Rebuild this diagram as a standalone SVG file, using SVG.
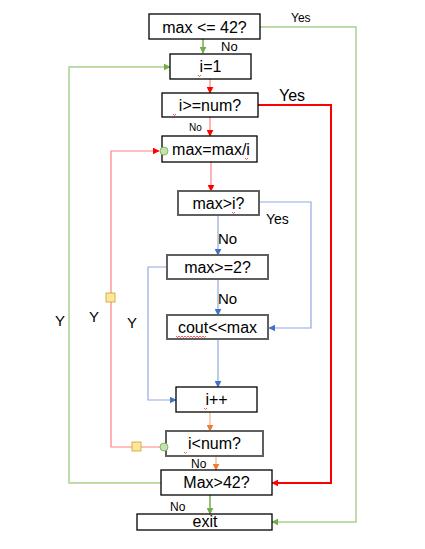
<svg xmlns="http://www.w3.org/2000/svg" width="425" height="549" viewBox="0 0 425 549">
<defs>
<style>
.box{fill:#fff;stroke:#000;stroke-width:1.3}
.gbox{fill:#fff;stroke:#5f5f5f;stroke-width:2}
.t{font-family:"Liberation Sans",Arial,sans-serif;font-size:16px;fill:#000;text-anchor:middle}
.lbl{font-family:"Liberation Sans",Arial,sans-serif;fill:#000}
.lg{fill:none;stroke:#a9d18e;stroke-width:1.5}
.g{fill:none;stroke:#70ad47;stroke-width:1.5}
.r{fill:none;stroke:#ff0000;stroke-width:2}
.lr{fill:none;stroke:#ff8080;stroke-width:1.2}
.b{fill:none;stroke:#8faadc;stroke-width:1.2}
.o{fill:none;stroke:#f4b183;stroke-width:1.2}
.sq{fill:none;stroke:#ff3030;stroke-width:0.8}
.dot{fill:#c5e0b4;stroke:#70ad47;stroke-width:0.8}
.hd{fill:#ffe699;stroke:#c9a227;stroke-width:0.8}
</style>
<marker id="ag" viewBox="0 0 10 10" refX="9" refY="5" markerWidth="7" markerHeight="7" markerUnits="userSpaceOnUse" orient="auto"><path d="M0,0 L10,5 L0,10 z" fill="#70ad47"/></marker>
<marker id="ar" viewBox="0 0 10 10" refX="9" refY="5" markerWidth="7" markerHeight="7" markerUnits="userSpaceOnUse" orient="auto"><path d="M0,0 L10,5 L0,10 z" fill="#ff0000"/></marker>
<marker id="ab" viewBox="0 0 10 10" refX="9" refY="5" markerWidth="7" markerHeight="7" markerUnits="userSpaceOnUse" orient="auto"><path d="M0,0 L10,5 L0,10 z" fill="#4472c4"/></marker>
<marker id="ao" viewBox="0 0 10 10" refX="9" refY="5" markerWidth="7" markerHeight="7" markerUnits="userSpaceOnUse" orient="auto"><path d="M0,0 L10,5 L0,10 z" fill="#ed7d31"/></marker>
</defs>
<rect width="425" height="549" fill="#fff"/>
<g id="connectors">
<path class="g" d="M203,39 V53" marker-end="url(#ag)"/>
<path class="lg" d="M260,27 H356 V522 H272" marker-end="url(#ag)"/>
<path class="lg" d="M161,483 H69 V67 H170" marker-end="url(#ag)"/>
<path class="lr" d="M210,79 V93" marker-end="url(#ar)"/>
<path class="r" d="M258,105 H331 V483 H272" marker-end="url(#ar)"/>
<path class="lr" d="M210,117 V136" marker-end="url(#ar)"/>
<path class="lr" d="M211,162 V191" marker-end="url(#ar)"/>
<path class="b" d="M259,202 H311 V328 H269" marker-end="url(#ab)"/>
<path class="b" d="M218,215 V255" marker-end="url(#ab)"/>
<path class="b" d="M167,267 H148 V400 H176" marker-end="url(#ab)"/>
<path class="b" d="M218,279 V315" marker-end="url(#ab)"/>
<path class="b" d="M218,339 V387" marker-end="url(#ab)"/>
<path class="o" d="M210,412 V431" marker-end="url(#ao)"/>
<path class="o" d="M216,456 V470" marker-end="url(#ao)"/>
<path class="g" d="M210,495 V514" marker-end="url(#ag)"/>
<path class="lr" d="M160,447 H111 V151 H159" marker-end="url(#ar)"/>
<rect class="hd" x="106" y="293" width="9" height="9"/>
<rect class="hd" x="132" y="442" width="9" height="9"/>
</g>
<g id="n1"><rect class="box" x="149" y="14" width="111" height="25"/><text class="t" x="204.5" y="32.5">max &lt;= 42?</text></g>
<g id="n2"><rect class="box" x="170" y="54" width="81" height="25"/><text class="t" x="210.5" y="72">i=1</text><path class="sq" d="M198,75 l1.5,1.5 l1.5,-1.5"/></g>
<g id="n3"><rect class="box" x="162" y="93" width="96" height="24"/><text class="t" x="210" y="111">i&gt;=num?</text><path class="sq" d="M173,114 l1.5,1.5 l1.5,-1.5"/></g>
<g id="n4"><rect class="box" x="162" y="136" width="95" height="26"/><text class="t" x="211" y="155">max=max/i</text><path class="sq" d="M245,158 l1.5,1.5 l1.5,-1.5"/></g>
<g id="n5"><rect class="gbox" x="178" y="191" width="81" height="24"/><text class="t" x="218.5" y="209">max&gt;i?</text><path class="sq" d="M232,212 l1.5,1.5 l1.5,-1.5"/></g>
<g id="n6"><rect class="gbox" x="167" y="255" width="101" height="24"/><text class="t" x="217.5" y="273">max&gt;=2?</text></g>
<g id="n7"><rect class="gbox" x="167" y="315" width="101" height="24"/><text class="t" x="217.5" y="333">cout&lt;&lt;max</text><path class="sq" d="M176,336 l1.5,1.5 l1.5,-1.5 l1.5,1.5 l1.5,-1.5 l1.5,1.5 l1.5,-1.5 l1.5,1.5 l1.5,-1.5 l1.5,1.5 l1.5,-1.5 l1.5,1.5 l1.5,-1.5 l1.5,1.5 l1.5,-1.5 l1.5,1.5 l1.5,-1.5 l1.5,1.5 l1.5,-1.5 l1.5,1.5 l1.5,-1.5"/></g>
<g id="n8"><rect class="box" x="176" y="387" width="81" height="25"/><text class="t" x="216.5" y="405">i++</text><path class="sq" d="M204,408 l1.5,1.5 l1.5,-1.5"/></g>
<g id="n9"><rect class="gbox" x="166" y="431" width="97" height="25"/><text class="t" x="214.5" y="449">i&lt;num?</text><path class="sq" d="M184,452 l1.5,1.5 l1.5,-1.5"/></g>
<g id="n10"><rect class="box" x="161" y="470" width="111" height="25"/><text class="t" x="216.5" y="488">Max&gt;42?</text></g>
<g id="n11"><rect class="box" x="137" y="514" width="135" height="16"/><text class="t" x="205" y="527" font-size="13.5px">exit</text></g>
<g id="ends">
<circle class="dot" cx="164" cy="151" r="4"/>
<circle class="dot" cx="164" cy="447" r="4"/>
</g>
<g id="labels">
<text class="lbl" x="291" y="22" font-size="12px">Yes</text>
<text class="lbl" x="221" y="51" font-size="13px">No</text>
<text class="lbl" x="279" y="101" font-size="16px">Yes</text>
<text class="lbl" x="189" y="131" font-size="10px">No</text>
<text class="lbl" x="266" y="224" font-size="14px">Yes</text>
<text class="lbl" x="218" y="244" font-size="15px">No</text>
<text class="lbl" x="218" y="304" font-size="15px">No</text>
<text class="lbl" x="55" y="326" font-size="15px">Y</text>
<text class="lbl" x="89" y="322" font-size="15px">Y</text>
<text class="lbl" x="127" y="328" font-size="15px">Y</text>
<text class="lbl" x="191" y="468" font-size="12px">No</text>
<text class="lbl" x="170" y="511" font-size="12px">No</text>
</g>
</svg>
